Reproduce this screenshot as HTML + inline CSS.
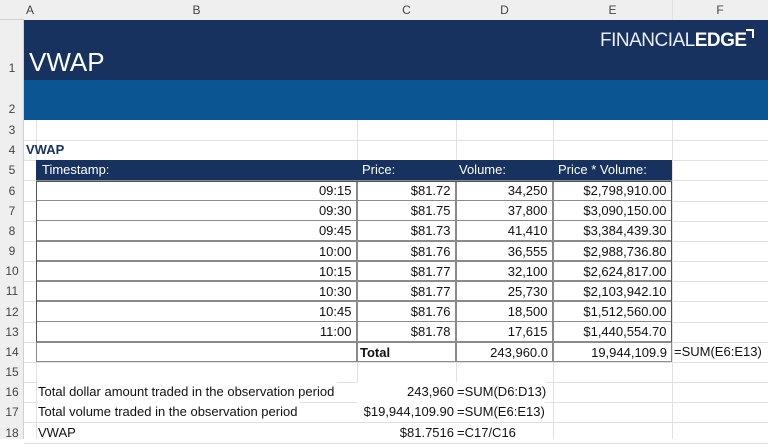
<!DOCTYPE html>
<html><head><meta charset="utf-8"><style>
*{margin:0;padding:0;box-sizing:border-box}
body{width:768px;height:439px;overflow:hidden;background:#fff;font-family:"Liberation Sans",sans-serif;position:relative;color:#111}
.a{position:absolute;white-space:nowrap}
.t{font-size:13px;line-height:20px}
.r{text-align:right}
.hd{background:#efefef;color:#444;font-size:12px;text-align:center;line-height:20px}
.vl{position:absolute;width:1px;background:#e1e1e1}
.hl{position:absolute;height:1px;background:#e1e1e1}
</style></head><body>
<div class="a hd" style="left:0;top:0;width:768px;height:20px;border-bottom:1px solid #d0d0d0"></div>
<div class="a hd" style="left:24px;top:0;width:12px">A</div>
<div class="a hd" style="left:36px;top:0;width:321px">B</div>
<div class="a hd" style="left:357px;top:0;width:99px">C</div>
<div class="a hd" style="left:456px;top:0;width:97px">D</div>
<div class="a hd" style="left:553px;top:0;width:119px">E</div>
<div class="a hd" style="left:672px;top:0;width:96px">F</div>
<div class="a" style="left:0;top:20px;width:24px;height:419px;background:#efefef;border-right:1px solid #d0d0d0"></div>
<div class="vl" style="left:36px;top:120px;height:319px"></div>
<div class="vl" style="left:357px;top:120px;height:319px"></div>
<div class="vl" style="left:456px;top:120px;height:319px"></div>
<div class="vl" style="left:553px;top:120px;height:319px"></div>
<div class="vl" style="left:672px;top:0;height:439px"></div>
<div id="g"></div>
<div class="a" style="left:24px;top:20px;width:744px;height:60px;background:#17325f"></div>
<div class="a" style="left:24px;top:80px;width:744px;height:40px;background:#0a5592"></div>
<div class="a" style="left:29px;top:44px;color:#fff;font-size:26px;line-height:36px">VWAP</div>
<div class="a" style="left:600px;top:31px;color:#fff;font-size:19px;line-height:20px;letter-spacing:-0.5px"><span style="font-weight:300;color:#e8eef6">FINANCIAL</span><b>EDGE</b></div>
<div class="a" style="left:746px;top:29px;width:8px;height:9px;border-top:2px solid #fff;border-right:2px solid #fff"></div>
<div class="a" style="left:36px;top:160px;width:636px;height:20px;background:#17325f"></div>
<div class="a t" style="left:42px;top:160px;color:#fff">Timestamp:</div>
<div class="a t" style="left:362px;top:160px;color:#fff">Price:</div>
<div class="a t" style="left:459px;top:160px;color:#fff">Volume:</div>
<div class="a t" style="left:558px;top:160px;color:#fff">Price * Volume:</div>
<div class="a t" style="left:26px;top:140px;color:#17325f;font-weight:bold">VWAP</div>
<div id="rows"></div>
<script>
(function(){
var rn='';for(var i=1;i<=18;i++){var tp=i==1?20:i==2?80:120+(i-3)*20.17;var h=i==1?60:i==2?40:20.17;
var lh=i==1?'line-height:20px;padding-top:38px':i==2?'line-height:20px;padding-top:19px':'line-height:20px';
rn+='<div class="a" style="left:0;top:'+tp+'px;width:24px;height:'+h+'px;color:#444;font-size:12px;text-align:center;'+lh+'">'+i+'</div>';
if(i>=3)rn+='<div class="hl" style="left:24px;width:744px;top:'+(tp+20)+'px"></div>';}
document.getElementById('g').innerHTML=rn;
var d=[["09:15","$81.72","34,250","$2,798,910.00"],["09:30","$81.75","37,800","$3,090,150.00"],["09:45","$81.73","41,410","$3,384,439.30"],["10:00","$81.76","36,555","$2,988,736.80"],["10:15","$81.77","32,100","$2,624,817.00"],["10:30","$81.77","25,730","$2,103,942.10"],["10:45","$81.76","18,500","$1,512,560.00"],["11:00","$81.78","17,615","$1,440,554.70"]];
var s='';var xs=[[36,321],[357,99],[456,97],[553,119]];
function y(r){return 120+(r-3)*20.17}
for(var k=0;k<8;k++){var t=y(6+k);for(var c=0;c<4;c++){s+='<div class="a t r" style="left:'+xs[c][0]+'px;top:'+t+'px;width:'+xs[c][1]+'px;padding-right:4px;border:1px solid #8a8a8a;margin:-0.5px;height:20.5px;background:#fff">'+d[k][c]+'</div>';}}
var t=y(14);
s+='<div class="a" style="left:36px;top:'+y(6)+'px;width:636px;height:'+(y(15)-y(6))+'px;border:1px solid #555"></div>';
var tot=['','<b style="float:left;padding-left:2px">Total</b>','243,960.0','19,944,109.9'];
for(var c=0;c<4;c++){s+='<div class="a t r" style="left:'+xs[c][0]+'px;top:'+t+'px;width:'+xs[c][1]+'px;padding-right:4px;border:1px solid #8a8a8a;height:20.5px;background:#fff">'+tot[c]+'</div>';}
s+='<div class="a t" style="left:674px;top:'+t+'px">=SUM(E6:E13)</div>';
var L=[["Total dollar amount traded in the observation period","243,960","=SUM(D6:D13)"],["Total volume traded in the observation period","$19,944,109.90","=SUM(E6:E13)"],["VWAP","$81.7516","=C17/C16"]];
for(var k=0;k<3;k++){var t2=y(16+k);s+='<div class="a t" style="left:38px;top:'+t2+'px;background:#fff;padding-right:3px">'+L[k][0]+'</div><div class="a t r" style="left:357px;top:'+t2+'px;width:99px;padding-right:2px;background:#fff">'+L[k][1]+'</div><div class="a t" style="left:456px;top:'+t2+'px;padding-left:1px;background:#fff">'+L[k][2]+'</div>';}
document.getElementById('rows').innerHTML=s;
})();
</script>
</body></html>
